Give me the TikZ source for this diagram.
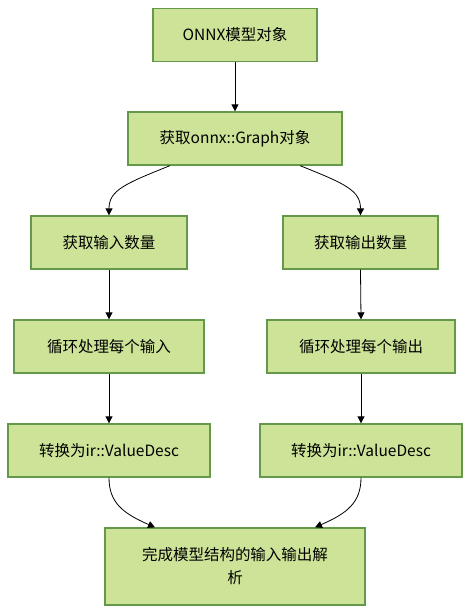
\documentclass[tikz,border=0pt]{standalone}
\usepackage{fontspec}
\setmainfont{Noto Sans CJK SC}
\usetikzlibrary{arrows.meta}
\definecolor{boxfill}{HTML}{CDE498}
\definecolor{boxline}{HTML}{64994C}
\tikzset{
  box/.style={draw=boxline, fill=boxfill, line width=1.3pt, minimum height=53pt,
    inner sep=0pt, align=center, font=\fontsize{15.5}{23}\selectfont},
  conn/.style={line width=0.8pt, -{Triangle[length=7pt,width=7pt]}},
}
\begin{document}
\begin{tikzpicture}[x=1pt,y=-1pt]
\useasboundingbox (0,0) rectangle (470,614);
\node[box, minimum width=164pt] (n1) at (235,35) {ONNX模型对象};
\node[box, minimum width=214pt] (n2) at (235,138.5) {获取onnx::Graph对象};
\node[box, minimum width=156pt] (n3) at (109,242.5) {获取输入数量};
\node[box, minimum width=155pt] (n4) at (360.5,242.5) {获取输出数量};
\node[box, minimum width=190pt] (n5) at (109,346.5) {循环处理每个输入};
\node[box, minimum width=188pt] (n6) at (361,346.5) {循环处理每个输出};
\node[box, minimum width=202pt] (n7) at (109,450.5) {转换为ir::ValueDesc};
\node[box, minimum width=202pt] (n8) at (361,450.5) {转换为ir::ValueDesc};
\node[box, minimum width=260pt, minimum height=77pt] (n9) at (235,566.5) {完成模型结构的输入输出解\\析};

\draw[conn] (n1.south) -- (n2.north);
\draw[conn] ([xshift=-65pt]n2.south) .. controls +(-45,18) and +(0,-25) .. (n3.north);
\draw[conn] ([xshift=65pt]n2.south) .. controls +(45,18) and +(0,-25) .. (n4.north);
\draw[conn] (n3.south) -- (n5.north);
\draw[conn] (n4.south) -- (n6.north);
\draw[conn] (n5.south) -- (n7.north);
\draw[conn] (n6.south) -- (n8.north);
\draw[conn] (n7.south) .. controls +(0,25) and +(-32,-14) .. ([xshift=-80pt]n9.north);
\draw[conn] (n8.south) .. controls +(0,25) and +(32,-14) .. ([xshift=80pt]n9.north);
\end{tikzpicture}
\end{document}
